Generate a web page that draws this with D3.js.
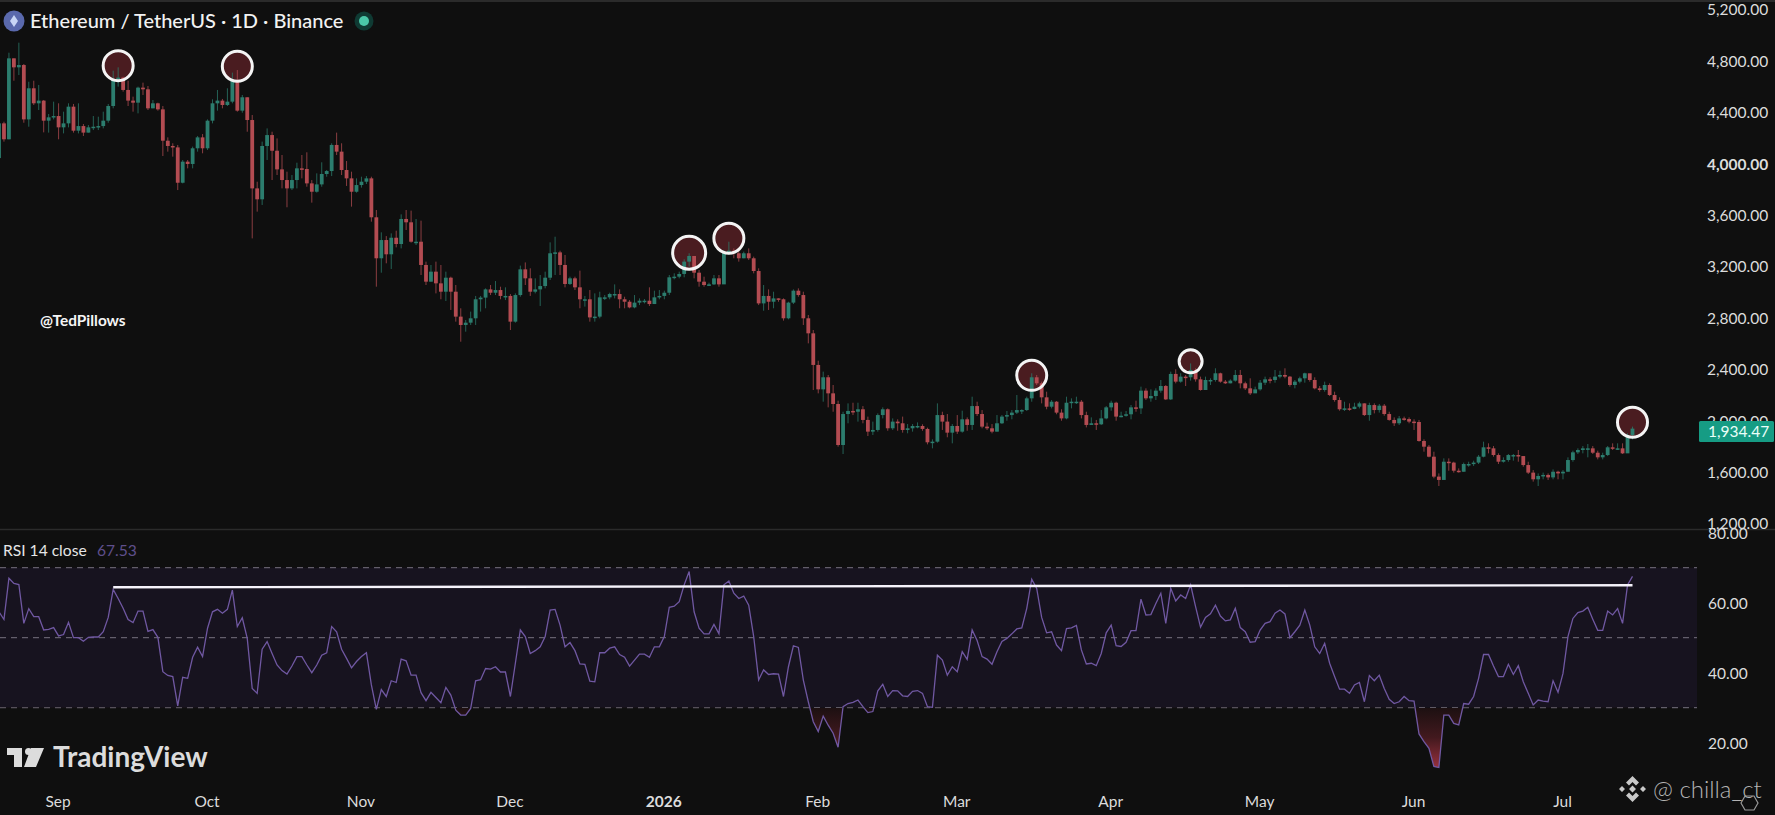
<!DOCTYPE html>
<html>
<head>
<meta charset="utf-8">
<title>ETHUSDT 1D</title>
<script src="https://cdn.jsdelivr.net/npm/d3@7"></script>
<style>
  html, body { margin: 0; padding: 0; background: #0f0f0f; overflow: hidden; }
  text { font-family: Lato, "Open Sans", sans-serif; }
</style>
</head>
<body>
<div id="chart"></div>
<script>
var firstDay = new Date(Date.UTC(2025, 7, 20));
var firstOpen = 4040;

// daily closes, ten to a line
var closes = [
  4310, 4186, 4816, 4746, 4764, 4341, 4583, 4466, 4487, 4331,
  4357, 4367, 4279, 4310, 4440, 4253, 4289, 4238, 4279, 4284,
  4289, 4331, 4445, 4653, 4666, 4570, 4487, 4471, 4588, 4575,
  4427, 4466, 4419, 4175, 4134, 4123, 3848, 4012, 3994, 4116,
  4201, 4116, 4331, 4466, 4487, 4453, 4479, 4647, 4409, 4513,
  4336, 3804, 3719, 4134, 4219, 4097, 3952, 3869, 3804, 3869,
  3960, 3955, 3843, 3778, 3835, 3916, 3939, 4142, 4090, 3947,
  3882, 3778, 3830, 3856, 3882, 3579, 3260, 3402, 3291, 3420,
  3371, 3566, 3540, 3389, 3389, 3208, 3078, 3156, 3065, 3000,
  3109, 3000, 2806, 2741, 2759, 2793, 2941, 2954, 3018, 2992,
  3013, 2967, 2967, 2767, 2974, 3174, 3104, 3000, 3018, 3044,
  3109, 3299, 3306, 3208, 3060, 3104, 3034, 2941, 2941, 2800,
  2806, 2956, 2956, 2982, 2982, 2941, 2922, 2878, 2915, 2930,
  2930, 2904, 2956, 2967, 2992, 3112, 3117, 3138, 3234, 3278,
  3148, 3078, 3052, 3057, 3104, 3057, 3306, 3319, 3299, 3260,
  3299, 3260, 3161, 2909, 2967, 2922, 2948, 2941, 2793, 2915,
  3008, 2974, 2793, 2676, 2430, 2240, 2334, 2209, 2126, 1807,
  2048, 2072, 2066, 2085, 2002, 1911, 1924, 2040, 2085, 1937,
  1989, 1976, 1924, 1937, 1955, 1955, 1932, 1828, 1833, 2040,
  1989, 1903, 1955, 1911, 2007, 1963, 2110, 2048, 1950, 1937,
  1911, 1976, 2028, 2040, 2059, 2079, 2079, 2170, 2334, 2287,
  2178, 2105, 2144, 2059, 2014, 2136, 2144, 2144, 2040, 1963,
  1976, 1968, 2014, 2100, 2136, 2028, 2035, 2046, 2100, 2092,
  2230, 2170, 2188, 2230, 2266, 2162, 2360, 2300, 2339, 2334,
  2391, 2318, 2235, 2313, 2313, 2365, 2300, 2287, 2308, 2352,
  2287, 2248, 2209, 2240, 2292, 2318, 2313, 2339, 2352, 2339,
  2274, 2300, 2326, 2365, 2313, 2248, 2235, 2274, 2196, 2157,
  2085, 2092, 2087, 2105, 2131, 2040, 2118, 2079, 2113, 2048,
  2002, 1976, 2014, 2009, 1989, 1986, 1838, 1794, 1716, 1561,
  1535, 1677, 1670, 1607, 1599, 1659, 1659, 1670, 1716, 1789,
  1781, 1729, 1677, 1690, 1729, 1729, 1721, 1651, 1592, 1540,
  1566, 1574, 1555, 1599, 1586, 1599, 1690, 1750, 1768, 1781,
  1781, 1747, 1711, 1729, 1789, 1781, 1781, 1742, 1885, 1934.47
];

var highs = [
  4323, 4323, 4860, 4816, 4938, 4772, 4634, 4642, 4609, 4492,
  4383, 4479, 4466, 4401, 4466, 4461, 4466, 4305, 4297, 4367,
  4362, 4401, 4461, 4720, 4746, 4673, 4642, 4518, 4596, 4627,
  4601, 4492, 4471, 4445, 4201, 4155, 4142, 4025, 4025, 4129,
  4212, 4227, 4341, 4497, 4570, 4500, 4583, 4705, 4725, 4531,
  4513, 4375, 3856, 4168, 4271, 4245, 4193, 4064, 3934, 3908,
  4004, 4064, 4085, 3869, 3921, 4007, 3947, 4155, 4238, 4155,
  4017, 3934, 3882, 3895, 3900, 3895, 3636, 3462, 3433, 3454,
  3475, 3602, 3636, 3631, 3566, 3553, 3234, 3208, 3234, 3208,
  3156, 3117, 3052, 2871, 2780, 2845, 2967, 2967, 3026, 3052,
  3083, 3039, 3034, 2982, 2987, 3203, 3228, 3182, 3104, 3130,
  3156, 3384, 3428, 3319, 3286, 3117, 3117, 3164, 2967, 3013,
  2987, 3000, 2974, 2992, 3057, 3018, 2961, 2935, 2974, 2948,
  2943, 3034, 3008, 3013, 3008, 3130, 3143, 3156, 3252, 3299,
  3278, 3169, 3117, 3070, 3130, 3130, 3324, 3389, 3337, 3337,
  3312, 3337, 3273, 3182, 3052, 3018, 3000, 2948, 2948, 2922,
  3018, 3026, 3000, 2819, 2702, 2463, 2378, 2352, 2274, 2152,
  2066, 2131, 2136, 2136, 2110, 2028, 1989, 2053, 2100, 2092,
  2014, 2007, 2028, 1970, 1970, 1983, 1968, 1942, 1851, 2131,
  2066, 2048, 1970, 2040, 2074, 2022, 2183, 2144, 2079, 1981,
  1970, 2040, 2040, 2072, 2079, 2196, 2085, 2183, 2365, 2352,
  2300, 2222, 2157, 2149, 2085, 2183, 2170, 2183, 2157, 2066,
  2022, 2002, 2079, 2110, 2152, 2144, 2066, 2072, 2118, 2152,
  2261, 2248, 2240, 2248, 2313, 2274, 2378, 2396, 2365, 2352,
  2442, 2404, 2339, 2339, 2326, 2404, 2370, 2313, 2318, 2391,
  2391, 2300, 2326, 2261, 2313, 2339, 2334, 2391, 2385, 2404,
  2344, 2313, 2339, 2370, 2360, 2334, 2266, 2300, 2287, 2222,
  2178, 2144, 2131, 2136, 2144, 2131, 2136, 2131, 2126, 2126,
  2066, 2022, 2033, 2028, 2022, 2007, 2002, 1851, 1807, 1755,
  1586, 1703, 1703, 1677, 1625, 1670, 1677, 1685, 1729, 1833,
  1820, 1799, 1742, 1711, 1737, 1737, 1768, 1721, 1677, 1612,
  1586, 1592, 1586, 1617, 1607, 1612, 1711, 1763, 1781, 1799,
  1815, 1799, 1763, 1747, 1799, 1820, 1820, 1820, 1898, 1950
];

var lows = [
  4038, 4168, 4186, 4642, 4686, 4315, 4284, 4453, 4414, 4240,
  4238, 4341, 4186, 4232, 4279, 4238, 4232, 4212, 4238, 4258,
  4258, 4271, 4315, 4427, 4596, 4557, 4445, 4401, 4388, 4531,
  4414, 4427, 4409, 4056, 4090, 4051, 3791, 3843, 3960, 3960,
  4090, 4077, 4103, 4310, 4409, 4427, 4445, 4466, 4401, 4393,
  4245, 3415, 3623, 3675, 4025, 3869, 3908, 3804, 3657, 3791,
  3804, 3882, 3817, 3693, 3771, 3817, 3895, 3900, 4064, 3908,
  3823, 3662, 3771, 3810, 3838, 3545, 3039, 3148, 3221, 3177,
  3345, 3337, 3480, 3382, 3363, 3130, 3052, 3078, 2987, 2941,
  2928, 2858, 2767, 2611, 2689, 2741, 2741, 2845, 2871, 2974,
  2974, 2941, 2935, 2702, 2759, 2961, 3052, 2967, 2987, 2889,
  3026, 3091, 3130, 3130, 3034, 3052, 3013, 2871, 2884, 2767,
  2767, 2793, 2935, 2941, 2948, 2871, 2871, 2871, 2871, 2896,
  2909, 2889, 2904, 2941, 2941, 2974, 3096, 3104, 3112, 3195,
  3104, 3039, 3039, 3044, 3052, 3039, 3065, 3286, 3260, 3234,
  3260, 3247, 3143, 2896, 2852, 2858, 2871, 2922, 2775, 2785,
  2904, 2961, 2741, 2598, 2235, 2209, 2144, 2100, 2066, 1794,
  1737, 1976, 2040, 1989, 1976, 1877, 1885, 1911, 2014, 1918,
  1924, 1918, 1903, 1898, 1911, 1937, 1918, 1812, 1781, 1825,
  1924, 1867, 1820, 1893, 1903, 1918, 1924, 2033, 1937, 1924,
  1898, 1911, 1970, 1996, 2007, 2048, 2048, 2072, 2144, 2274,
  2131, 2085, 2092, 2046, 1996, 2007, 2092, 2126, 2014, 1944,
  1963, 1924, 1963, 2007, 2074, 1996, 2022, 2028, 2007, 2066,
  2048, 2157, 2144, 2157, 2214, 2157, 2157, 2287, 2292, 2266,
  2308, 2300, 2230, 2235, 2274, 2300, 2292, 2282, 2287, 2300,
  2248, 2235, 2196, 2222, 2230, 2274, 2287, 2292, 2326, 2326,
  2261, 2248, 2287, 2292, 2300, 2240, 2222, 2222, 2188, 2144,
  2074, 2072, 2074, 2085, 2092, 2033, 1996, 2053, 2059, 2035,
  1996, 1955, 1963, 1996, 1976, 1924, 1833, 1755, 1711, 1548,
  1488, 1548, 1607, 1592, 1592, 1599, 1638, 1644, 1659, 1711,
  1742, 1716, 1659, 1670, 1677, 1685, 1677, 1638, 1581, 1522,
  1488, 1540, 1535, 1540, 1540, 1540, 1599, 1677, 1737, 1742,
  1711, 1737, 1695, 1695, 1721, 1768, 1768, 1737, 1747, 1851
];

var rsiValues = [
  57.4, 55.2, 67.0, 65.5, 65.2, 54.1, 58.3, 56.0, 56.0, 52.2,
  52.4, 52.9, 50.5, 50.9, 54.4, 50.0, 50.0, 49.0, 50.1, 50.2,
  50.2, 51.7, 55.8, 63.8, 61.2, 58.4, 55.2, 54.3, 57.6, 57.6,
  51.8, 52.3, 50.1, 40.3, 39.2, 38.9, 30.5, 38.7, 38.4, 44.4,
  47.3, 44.6, 52.7, 57.4, 58.1, 57.0, 58.1, 63.6, 53.2, 55.7,
  49.8, 35.5, 34.1, 46.7, 48.9, 45.5, 42.2, 40.6, 39.6, 41.9,
  44.6, 44.6, 42.2, 40.0, 42.2, 45.0, 45.7, 53.2, 51.7, 46.7,
  44.1, 41.4, 43.2, 44.6, 45.7, 36.5, 29.5, 35.2, 33.2, 37.7,
  37.2, 43.9, 43.4, 39.3, 39.3, 34.3, 32.0, 34.4, 32.9, 31.4,
  35.8, 33.6, 29.3, 27.9, 27.9, 29.8, 37.7, 38.0, 41.2, 41.0,
  41.7, 40.2, 40.2, 33.2, 42.7, 52.2, 50.3, 45.5, 46.3, 47.4,
  50.3, 57.9, 58.1, 53.6, 47.4, 48.6, 46.3, 42.5, 42.4, 37.6,
  37.4, 45.7, 45.7, 47.0, 47.4, 45.2, 44.4, 41.9, 43.6, 45.3,
  45.3, 44.4, 47.4, 47.4, 50.3, 58.7, 59.0, 60.3, 65.1, 68.9,
  57.4, 52.7, 51.1, 51.1, 53.8, 51.1, 65.1, 66.2, 62.7, 61.2,
  61.9, 59.3, 50.3, 37.9, 40.8, 39.5, 39.7, 39.6, 33.2, 41.7,
  47.7, 47.2, 37.9, 31.7, 26.0, 23.2, 27.6, 25.0, 22.7, 18.7,
  30.3, 31.2, 31.5, 32.2, 30.3, 28.6, 28.9, 34.8, 36.7, 33.2,
  34.9, 34.8, 33.4, 33.2, 34.7, 34.9, 34.1, 30.3, 30.1, 45.0,
  43.6, 39.3, 41.7, 40.3, 46.0, 43.8, 52.2, 49.2, 44.6, 43.9,
  42.4, 46.0, 48.9, 49.8, 51.1, 52.5, 52.8, 58.4, 66.7, 64.1,
  55.8, 51.4, 51.7, 47.9, 46.3, 52.6, 52.8, 53.5, 46.5, 42.5,
  42.7, 42.0, 45.5, 51.4, 53.6, 47.7, 47.5, 48.7, 52.0, 52.0,
  61.0, 56.5, 56.6, 59.8, 62.7, 54.1, 64.1, 60.5, 62.2, 61.2,
  65.1, 58.9, 53.0, 55.8, 56.8, 59.3, 56.2, 54.8, 55.1, 58.4,
  52.9, 51.7, 48.7, 48.9, 52.2, 54.1, 54.6, 57.0, 57.9, 56.8,
  50.0, 51.7, 53.6, 57.9, 53.6, 47.4, 45.5, 48.4, 42.7, 38.9,
  35.3, 35.3, 34.1, 36.5, 37.2, 31.7, 39.2, 37.7, 39.3, 35.5,
  32.4, 31.2, 31.7, 33.2, 32.0, 31.9, 22.5, 20.3, 18.4, 13.2,
  12.9, 27.9, 27.9, 25.5, 25.1, 31.2, 31.0, 33.2, 38.4, 45.2,
  45.2, 41.9, 38.9, 38.9, 42.4, 39.5, 42.0, 37.4, 34.1, 30.8,
  32.2, 31.9, 31.7, 37.7, 34.4, 39.8, 50.3, 55.5, 57.2, 57.6,
  58.7, 55.3, 52.1, 52.1, 57.6, 56.5, 58.3, 54.1, 65.1, 67.53
];

var priceTicks = [5200, 4800, 4400, 4000, 3600, 3200, 2800, 2400, 2000, 1600, 1200];
var rsiTicks = [80, 60, 40, 20];
var rsiLevels = [70, 50, 30];
var monthLabels = ["Sep", "Oct", "Nov", "Dec", "2026", "Feb", "Mar", "Apr", "May", "Jun", "Jul"];
var monthStarts = [[2025, 8], [2025, 9], [2025, 10], [2025, 11], [2026, 0], [2026, 1], [2026, 2], [2026, 3], [2026, 4], [2026, 5], [2026, 6]];

// hand drawn annotations on the chart
var markBars = [24, 48, 139, 147, 208, 240, 329];
var markPrices = [4759, 4754, 3303, 3416, 2349, 2458, 1984];
var markSizes = [15, 15, 16.5, 15, 15, 11.5, 15];
var trendBars = [23, 329];
var trendRsi = [64.4, 65.0];

var W = 1775, H = 815;
var upCol = "#2c7d6e", downCol = "#b34c52";

var dates = closes.map(function (d, i) { return d3.utcDay.offset(firstDay, i); });
var opens = closes.map(function (d, i) { return i == 0 ? firstOpen : closes[i - 1]; });

var x = d3.scaleUtc().domain([dates[0], dates[dates.length - 1]]).range([-1, 1632.5]);
var y = d3.scaleLinear().domain([1200, 5200]).range([523, 9]);
var yR = d3.scaleLinear().domain([20, 80]).range([742.7, 532.7]);
var paneRight = 1697;

var svg = d3.select("#chart").append("svg")
  .attr("width", W).attr("height", H)
  .style("display", "block");

svg.append("rect").attr("width", W).attr("height", H).attr("fill", "#0f0f0f");
svg.append("line").attr("x1", 0).attr("x2", W).attr("y1", 1).attr("y2", 1).attr("stroke", "#2b2b2b").attr("stroke-width", 2);
svg.append("line").attr("x1", 0).attr("x2", W).attr("y1", 529.5).attr("y2", 529.5).attr("stroke", "#2b2b2b").attr("stroke-width", 1.5);

// red discs go under the candles, rings over them
svg.append("g").selectAll("circle").data(markBars).enter().append("circle")
  .attr("cx", function (d) { return x(dates[d]); })
  .attr("cy", function (d, i) { return y(markPrices[i]); })
  .attr("r", function (d, i) { return markSizes[i]; })
  .attr("fill", "#4a1c20");

// candles
var candle = svg.append("g").selectAll("g").data(closes).enter().append("g")
  .attr("transform", function (d, i) { return "translate(" + x(dates[i]) + ",0)"; })
  .attr("fill", function (d, i) { return d >= opens[i] ? upCol : downCol; });

candle.append("rect")
  .attr("x", -0.5).attr("width", 1)
  .attr("y", function (d, i) { return y(highs[i]); })
  .attr("height", function (d, i) { return y(lows[i]) - y(highs[i]); })
  .attr("opacity", 0.75);

candle.append("rect")
  .attr("x", -1.9).attr("width", 3.8)
  .attr("y", function (d, i) { return y(Math.max(d, opens[i])); })
  .attr("height", function (d, i) { return Math.max(1.5, Math.abs(y(d) - y(opens[i]))); });

svg.append("g").selectAll("circle").data(markBars).enter().append("circle")
  .attr("cx", function (d) { return x(dates[d]); })
  .attr("cy", function (d, i) { return y(markPrices[i]); })
  .attr("r", function (d, i) { return markSizes[i]; })
  .attr("fill", "none").attr("stroke", "#f4f4f4").attr("stroke-width", 3);

// rsi pane
svg.append("rect")
  .attr("x", 0).attr("width", paneRight)
  .attr("y", yR(70)).attr("height", yR(30) - yR(70))
  .attr("fill", "#17131f");

svg.append("g").selectAll("line").data(rsiLevels).enter().append("line")
  .attr("x1", 0).attr("x2", paneRight)
  .attr("y1", function (d) { return yR(d); }).attr("y2", function (d) { return yR(d); })
  .attr("stroke", "#77727f").attr("stroke-width", 1).attr("stroke-dasharray", "6 5");

var defs = svg.append("defs");
var grad = defs.append("linearGradient").attr("id", "oversold")
  .attr("gradientUnits", "userSpaceOnUse")
  .attr("x1", 0).attr("x2", 0).attr("y1", yR(30)).attr("y2", yR(13));
grad.append("stop").attr("offset", "0%").attr("stop-color", "#1c1011");
grad.append("stop").attr("offset", "50%").attr("stop-color", "#42191e");
grad.append("stop").attr("offset", "100%").attr("stop-color", "#96303c");

defs.append("clipPath").attr("id", "below30").append("rect")
  .attr("x", 0).attr("width", paneRight).attr("y", yR(30)).attr("height", 120);

var rsiArea = d3.area()
  .x(function (d, i) { return x(dates[i]); })
  .y0(yR(30))
  .y1(function (d) { return yR(d); });

svg.append("path").datum(rsiValues)
  .attr("d", rsiArea)
  .attr("fill", "url(#oversold)")
  .attr("clip-path", "url(#below30)");

var rsiLine = d3.line()
  .x(function (d, i) { return x(dates[i]); })
  .y(function (d) { return yR(d); });

svg.append("path").datum(rsiValues)
  .attr("d", rsiLine)
  .attr("fill", "none").attr("stroke", "#7058a2").attr("stroke-width", 1.3);

svg.append("line")
  .attr("x1", x(dates[trendBars[0]])).attr("x2", x(dates[trendBars[1]]))
  .attr("y1", yR(trendRsi[0])).attr("y2", yR(trendRsi[1]))
  .attr("stroke", "#f6f3fb").attr("stroke-width", 2.4);

// axes
function styleAxis(g) {
  g.select(".domain").remove();
  g.selectAll(".tick line").remove();
  g.selectAll("text").attr("fill", "#dcdcdc").style("font-size", "15.5px");
}

var priceAxis = d3.axisRight(y).tickValues(priceTicks).tickSize(0).tickPadding(0).tickFormat(d3.format(",.2f"));
svg.append("g").attr("transform", "translate(1707,1)").call(priceAxis).call(styleAxis)
  .selectAll("text").style("font-weight", function (d) { return d == 4000 ? 700 : 400; });

var rsiAxis = d3.axisRight(yR).tickValues(rsiTicks).tickSize(0).tickPadding(0).tickFormat(d3.format(".2f"));
svg.append("g").attr("transform", "translate(1708,0.5)").call(rsiAxis).call(styleAxis);

var monthDates = monthStarts.map(function (m) { return new Date(Date.UTC(m[0], m[1], 1)); });
var timeAxis = d3.axisBottom(x).tickValues(monthDates).tickSize(0).tickPadding(0)
  .tickFormat(function (d, i) { return monthLabels[i]; });
svg.append("g").attr("transform", "translate(-1,796)").call(timeAxis).call(styleAxis)
  .selectAll("text").style("font-weight", function (d, i) { return monthLabels[i] == "2026" ? 700 : 400; });

// last price tag
var lastClose = closes[closes.length - 1];
svg.append("rect")
  .attr("x", 1699).attr("width", 75)
  .attr("y", y(lastClose) - 7.5).attr("height", 21).attr("rx", 1.5)
  .attr("fill", "#169c84");
svg.append("text").attr("x", 1708).attr("y", y(lastClose) + 8)
  .attr("fill", "#eafff9").style("font-size", "15.5px")
  .text(d3.format(",.2f")(lastClose));

// header
svg.append("circle").attr("cx", 14).attr("cy", 21).attr("r", 10.5).attr("fill", "#5a69ad");
svg.append("path").attr("d", "M14 15L18 21L14 27L10 21Z").attr("fill", "#c9d6f6");
svg.append("text").attr("x", 30).attr("y", 28).attr("fill", "#f2f2f2")
  .style("font-size", "20px").style("font-weight", 500)
  .text("Ethereum  / TetherUS · 1D · Binance");
svg.append("circle").attr("cx", 364).attr("cy", 21).attr("r", 9.5).attr("fill", "#0f3a33");
svg.append("circle").attr("cx", 364).attr("cy", 21).attr("r", 5).attr("fill", "#4ac7a8");

svg.append("text").attr("x", 40).attr("y", 326).attr("fill", "#f5f5f5")
  .style("font-size", "15.4px").style("font-weight", 700)
  .text("@TedPillows");

svg.append("text").attr("x", 3).attr("y", 556).attr("fill", "#e6e6e6").style("font-size", "15.6px").text("RSI 14 close");
svg.append("text").attr("x", 97).attr("y", 556).attr("fill", "#5f4f8c").style("font-size", "15.6px").text("67.53");

// TradingView logo
svg.append("path")
  .attr("d", "M7 748H22V767H14V755H7Z M31 748H44L36 767H24Z")
  .attr("fill", "#dcdcdc");
svg.append("circle").attr("cx", 28.5).attr("cy", 751.5).attr("r", 3.5).attr("fill", "#dcdcdc");
svg.append("text").attr("x", 53).attr("y", 767).attr("fill", "#dcdcdc")
  .style("font-size", "28px").style("font-weight", 700)
  .text("TradingView");

// exchange watermark
svg.append("path")
  .attr("d", "M1632.5 776L1639 782.5L1636 785.5L1632.5 782L1629 785.5L1626 782.5Z M1632.5 802L1639 795.5L1636 792.5L1632.5 796L1629 792.5L1626 795.5Z M1632.5 785.5L1636 789L1632.5 792.5L1629 789Z M1622 786L1625 789L1622 792L1619 789Z M1643 786L1646 789L1643 792L1640 789Z")
  .attr("fill", "#c8c8c8");
svg.append("text").attr("x", 1653).attr("y", 798).attr("fill", "#b4b4b4")
  .style("font-size", "24px").style("font-weight", 300)
  .text("@ chilla_ct");
svg.append("path")
  .attr("d", "M1741 803L1745 796H1754L1758 803L1754 810H1745Z")
  .attr("fill", "none").attr("stroke", "#9a9a9a").attr("stroke-width", 1.2);
</script>
</body>
</html>
